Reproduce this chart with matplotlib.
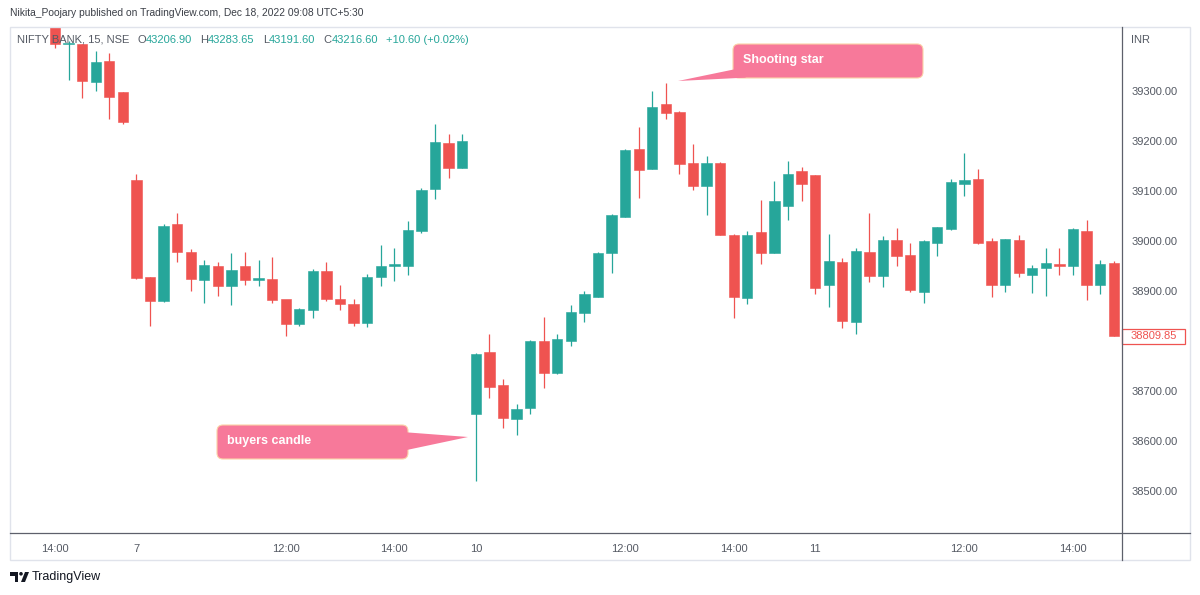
import matplotlib
matplotlib.use("Agg")
import matplotlib.pyplot as plt
from matplotlib.patches import Rectangle, FancyBboxPatch, Polygon, Circle
from matplotlib.transforms import blended_transform_factory

# NIFTY BANK 15 min candles
opens = [39450, 39394, 39394, 39319, 39360, 39297,
         39121, 38927, 38880, 39034, 38977, 38923, 38951, 38911, 38951, 38923, 38924, 38883,
         38835, 38863, 38939, 38885, 38874, 38837, 38929, 38951, 38951, 39020, 39104, 39196, 39147,
         38654, 38777, 38712, 38645, 38666, 38799, 38737, 38800, 38857, 38889, 38977, 39049,
         39184, 39145, 39273, 39258, 39156, 39110, 39156, 39012, 38887, 39018, 38976, 39071, 39139,
         39131, 38912, 38957, 38839, 38977, 38931, 39001, 38971, 38899, 38997, 39024, 39114,
         39123, 39000, 38913, 39002, 38933, 38947, 38955, 38950, 39020, 38913, 38955]
highs = [39460, 39400, 39394, 39380, 39377, 39299,
         39134, 38928, 39035, 39057, 38985, 38962, 38959, 38977, 38979, 38962, 38969, 38883,
         38866, 38944, 38959, 38913, 38884, 38934, 38993, 38987, 39041, 39107, 39235, 39214, 39214,
         38777, 38815, 38725, 38675, 38803, 38849, 38815, 38872, 38900, 38979, 39055, 39184,
         39228, 39300, 39317, 39261, 39194, 39170, 39159, 39014, 39020, 39082, 39121, 39160, 39149,
         39133, 39014, 38967, 38987, 39056, 39010, 39027, 38997, 39002, 39028, 39125, 39176,
         39144, 39007, 39005, 39012, 38953, 38987, 38987, 39026, 39042, 38963, 38960]
lows = [39386, 39322, 39286, 39301, 39245, 39234,
        38924, 38830, 38879, 38958, 38901, 38877, 38890, 38872, 38912, 38911, 38877, 38810,
        38831, 38847, 38881, 38863, 38831, 38829, 38911, 38921, 38932, 39017, 39084, 39127, 39147,
        38521, 38687, 38627, 38613, 38654, 38707, 38734, 38790, 38839, 38889, 38937, 39049,
        39086, 39145, 39245, 39135, 39102, 39053, 39013, 38847, 38875, 38955, 38976, 39043, 39080,
        38895, 38869, 38827, 38814, 38919, 38909, 38951, 38898, 38877, 38971, 39022, 39090,
        38995, 38889, 38899, 38929, 38897, 38891, 38932, 38932, 38882, 38894, 38809.85]
closes = [39394, 39396, 39321, 39357, 39289, 39239,
          38927, 38881, 39030, 38978, 38924, 38953, 38911, 38943, 38923, 38927, 38882, 38835,
          38864, 38940, 38885, 38875, 38837, 38927, 38950, 38953, 39022, 39101, 39198, 39147, 39200,
          38773, 38709, 38647, 38664, 38799, 38737, 38803, 38858, 38894, 38975, 39052, 39181,
          39143, 39268, 39257, 39155, 39110, 39156, 39013, 38888, 39012, 38976, 39079, 39133, 39114,
          38907, 38959, 38841, 38979, 38931, 39002, 38970, 38902, 39000, 39028, 39117, 39123,
          38997, 38913, 39003, 38937, 38947, 38957, 38951, 39024, 38913, 38955, 38809.85]

time_tick_pos = [0, 6, 17, 25, 31, 42, 50, 56, 67, 75]
time_tick_labels = ["14:00", "7", "12:00", "14:00", "10", "12:00", "14:00", "11", "12:00", "14:00"]
# 38800 is hidden behind the last-price label on the original
price_ticks = [38500, 38600, 38700, 38900, 39000, 39100, 39200, 39300]

UP = "#26a69a"
DOWN = "#ef5350"
TXT = "#555a64"
FONT = "Liberation Sans"

plt.rcParams['font.family'] = [FONT, 'DejaVu Sans']

W, H = 1200, 595
fig = plt.figure(figsize=(W / 100, H / 100), dpi=100)
fig.patch.set_facecolor("white")

# main chart pane (pixel layout of the screenshot)
left_px, right_px, top_px, bot_px = 10, 1121.5, 26.7, 532.5
ax = fig.add_axes([left_px / W, (H - bot_px) / H, (right_px - left_px) / W, (bot_px - top_px) / H])
ax.set_xlim(-3.315, 78.57)
ax.set_ylim(38417, 39428.6)
for s in ax.spines.values():
    s.set_visible(False)

body_w = 0.76
for i in range(len(opens)):
    o, h, l, c = opens[i], highs[i], lows[i], closes[i]
    col = UP if c >= o else DOWN
    ax.vlines(i, l, h, color=col, lw=0.9, zorder=2)
    lo = min(o, c)
    hgt = max(abs(c - o), 2.5)
    ax.add_patch(Rectangle((i - body_w / 2, lo), body_w, hgt, facecolor=col,
                           edgecolor=col, lw=0.4, zorder=3))

ax.set_xticks(time_tick_pos)
ax.set_xticklabels(time_tick_labels)
ax.yaxis.tick_right()
ax.set_yticks(price_ticks)
ax.set_yticklabels([f"{p:.2f}" for p in price_ticks])
ax.tick_params(axis="x", length=0, pad=8, labelsize=8, colors=TXT)
ax.tick_params(axis="y", length=0, pad=7, labelsize=8, colors=TXT)

# last price label
last = closes[-1]
tr = blended_transform_factory(ax.transAxes, ax.transData)
ax.add_patch(Rectangle((1.0008, last - 15), 63 / (right_px - left_px), 30, transform=tr,
                       facecolor="white", edgecolor=DOWN, lw=0.9, clip_on=False, zorder=5))
ax.text(1.0 + 9 / (right_px - left_px), last, f"{last:.2f}", transform=tr, ha="left",
        va="center", fontsize=8, color=DOWN, zorder=6)

# overlay in pixel coordinates for frame, header and callouts
bg = fig.add_axes([0, 0, 1, 1], zorder=10)
bg.set_xlim(0, W)
bg.set_ylim(H, 0)
bg.axis("off")

bg.add_patch(Rectangle((10, 26.7), 1180, 533.3, fill=False, edgecolor="#e0e3eb", lw=1))
bg.plot([right_px, right_px], [26.7, 560], color="#5d606b", lw=0.9)
bg.plot([10, 1190], [bot_px, bot_px], color="#5d606b", lw=0.9)

bg.text(10, 13, "Nikita_Poojary published on TradingView.com, Dec 18, 2022 09:08 UTC+5:30",
        fontsize=7.35, color="#3b3f47", va="center", ha="left")
bg.text(1131, 40, "INR", fontsize=8, color=TXT, va="center", ha="left")

renderer = fig.canvas.get_renderer()
pieces = [("NIFTY BANK, 15, NSE", TXT, 8), ("O", TXT, 8), ("43206.90", UP, 0),
          ("H", TXT, 8), ("43283.65", UP, 0), ("L", TXT, 8), ("43191.60", UP, 0),
          ("C", TXT, 8), ("43216.60", UP, 0), ("+10.60 (+0.02%)", UP, 8)]
x = 17
for k, (s, col, gap) in enumerate(pieces):
    if k > 0:
        x += gap
    t = bg.text(x, 40, s, fontsize=8, color=col, va="center", ha="left")
    x += t.get_window_extent(renderer).width

# callouts
PINK = "#f7799a"
EDGE = "#fbd3a8"
bg.add_patch(FancyBboxPatch((733, 44), 190, 34, boxstyle="round,pad=0,rounding_size=6",
                            facecolor=PINK, edgecolor=EDGE, lw=0.8))
bg.add_patch(Polygon([(736, 69), (678, 81), (746, 77.6)], closed=True, facecolor=PINK,
                     edgecolor="none"))
bg.text(743, 60, "Shooting star", fontsize=9, color="white", fontweight="bold",
        va="center", ha="left")

bg.add_patch(FancyBboxPatch((217, 425), 191, 34, boxstyle="round,pad=0,rounding_size=6",
                            facecolor=PINK, edgecolor=EDGE, lw=0.8))
bg.add_patch(Polygon([(402, 432), (468, 437), (402, 451)], closed=True, facecolor=PINK,
                     edgecolor="none"))
bg.text(227, 441, "buyers candle", fontsize=9, color="white", fontweight="bold",
        va="center", ha="left")

# TradingView logo
bg.add_patch(Rectangle((10, 572), 8, 3.5, facecolor="#131722", edgecolor="none"))
bg.add_patch(Rectangle((14.5, 572), 3.5, 10, facecolor="#131722", edgecolor="none"))
bg.add_patch(Circle((21, 573.8), 1.8, facecolor="#131722", edgecolor="none"))
bg.add_patch(Polygon([(25, 572), (29, 572), (25, 582), (21, 582)], closed=True,
                     facecolor="#131722", edgecolor="none"))
bg.text(32, 577, "TradingView", fontsize=9, color="#131722", va="center", ha="left")

fig.savefig("out.png", dpi=100, facecolor="white")
